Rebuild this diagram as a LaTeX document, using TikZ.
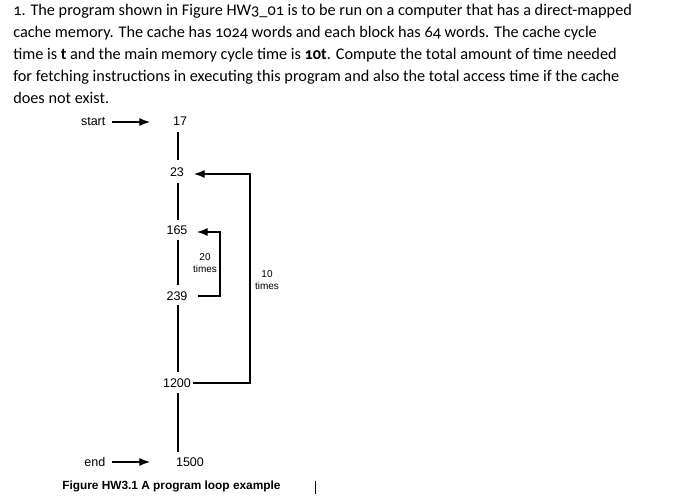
\documentclass[tikz,border=0pt]{standalone}
\usepackage{fontspec}
\setmainfont{Carlito}[Numbers=OldStyle]
\newfontfamily\arial{Liberation Sans}
\usetikzlibrary{arrows.meta}
\begin{document}
\begin{tikzpicture}[x=0.75pt,y=-0.75pt,
  lbl/.style={font=\arial\fontsize{9.4}{10.5}\selectfont,inner sep=1pt},
  small/.style={font=\arial\fontsize{7.5}{8.6}\selectfont,inner sep=0pt,align=center},
  arr/.style={-{Latex[length=8pt,width=6pt]},line width=0.9pt},
  ln/.style={line width=0.8pt}]
\useasboundingbox (0,0) rectangle (689,502);
\node[anchor=north west,inner sep=0pt,align=left,font=\fontsize{12.2}{16.5}\selectfont] (txt) at (13,4)
{1. The program shown in Figure HW3\_01 is to be run on a computer that has a direct-mapped\\
cache memory. The cache has 1024 words and each block has 64 words. The cache cycle\\
time is \textbf{t} and the main memory cycle time is \textbf{10t}. Compute the total amount of time needed\\
for fetching instructions in executing this program and also the total access time if the cache\\
does not exist.};
\node[lbl] (n17) at (180,121) {17};
\node[lbl] (n23) at (177,172) {23};
\node[lbl] (n165) at (177,230) {165};
\node[lbl] (n239) at (177,296) {239};
\node[lbl] (n1200) at (177,383) {1200};
\node[lbl] (n1500) at (190,462) {1500};
\node[lbl,anchor=east] (start) at (107,122) {start};
\node[lbl,anchor=east] (end) at (107,462) {end};
\draw[arr] (112,122) -- (150,122);
\draw[arr] (112,462) -- (150,462);
\draw[ln] (178,132) -- (178,160);
\draw[ln] (178,183) -- (178,220);
\draw[ln] (178,240) -- (178,285);
\draw[ln] (178,305) -- (178,372);
\draw[ln] (178,393) -- (178,452);
\coordinate (o1) at (250,383);
\coordinate (o2) at (250,174);
\coordinate (o3) at (194,174);
\coordinate (i1) at (220,296);
\coordinate (i2) at (220,232);
\coordinate (i3) at (197,232);
\coordinate (i0) at (198,296);
\draw[arr] (n1200.east) -- (o1) -- (o2) -- (o3);
\draw[arr] (i0) -- (i1) -- (i2) -- (i3);
\node[small] (t20) at (205,263) {20\\times};
\node[small] (t10) at (267,280) {10\\times};
\node[anchor=west,inner sep=0pt,font=\arial\bfseries\fontsize{8.9}{10}\selectfont] (cap) at (62,486) {Figure HW3.1 A program loop example};
\draw[line width=0.6pt] (315,481) -- (315,494);
\end{tikzpicture}
\end{document}
